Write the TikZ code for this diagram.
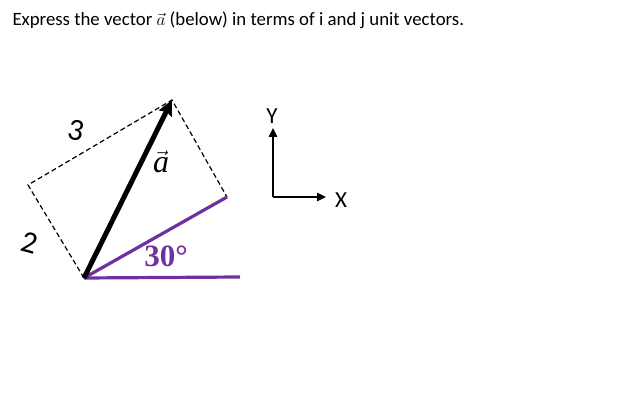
\documentclass[tikz,border=0pt]{standalone}
\usepackage{fontspec}
\setmainfont{Carlito}
\newfontfamily\numfont{Liberation Serif}
\usetikzlibrary{arrows.meta,positioning}
\definecolor{anglepurple}{RGB}{112,48,160}

\begin{document}
\begin{tikzpicture}[x=1pt,y=-1pt,
    projline/.style={draw=black, dashed, dash pattern=on 5pt off 3pt, line width=1.2pt},
    vecline/.style={draw=black, line width=5pt, -{Stealth[length=15pt,width=14pt,inset=2pt]}},
    angleline/.style={draw=anglepurple, line width=3.2pt},
    axisline/.style={draw=black, line width=1.6pt, -{Triangle[length=9pt,width=8.5pt]}}]
    \useasboundingbox (0,0) rectangle (619,401);

    \node (Question) [anchor=west, text=black, font=\fontsize{18.8}{20}\selectfont] at (9,20) {
        Express the vector $\vec{a}$ (below) in terms of i and j unit vectors.
    };

    % vector and its projections
    \coordinate (Origin) at (84,278);
    \coordinate (CornerLeft) at (28,185);
    \coordinate (Tip) at (172,100);
    \coordinate (CornerRight) at (227,197);
    \coordinate (AngleEnd) at (240,277);

    \draw[projline] (Origin) -- (CornerLeft) -- (Tip) -- (CornerRight);
    \draw[angleline] (Origin) -- (CornerRight);
    \draw[angleline] (Origin) -- (AngleEnd);
    \draw[vecline] (Origin) -- (Tip);

    \node (LabelThree) [font=\fontsize{31}{31}\selectfont, rotate=-12] at (76,130) {3};
    \node (LabelTwo) [font=\fontsize{31}{31}\selectfont, rotate=-15] at (30,243) {2};
    \node (LabelVec) [font=\fontsize{32}{32}\selectfont] at (161,162) {$\vec{\textit{\numfont a}}$};
    \node (LabelAngle) [font=\numfont\bfseries\fontsize{31}{31}\selectfont, text=anglepurple] at (166,256) {30°};

    % axes
    \coordinate (AxisOrigin) at (273,197);
    \coordinate (AxisY) at (273,128);
    \coordinate (AxisX) at (326,197);
    \draw[axisline] (AxisOrigin) -- (AxisY);
    \draw[axisline] (AxisOrigin) -- (AxisX);
    \node (LabelY) [font=\fontsize{23}{23}\selectfont] at (272,116) {Y};
    \node (LabelX) [font=\fontsize{23}{23}\selectfont] at (341,200) {X};
\end{tikzpicture}
\end{document}
